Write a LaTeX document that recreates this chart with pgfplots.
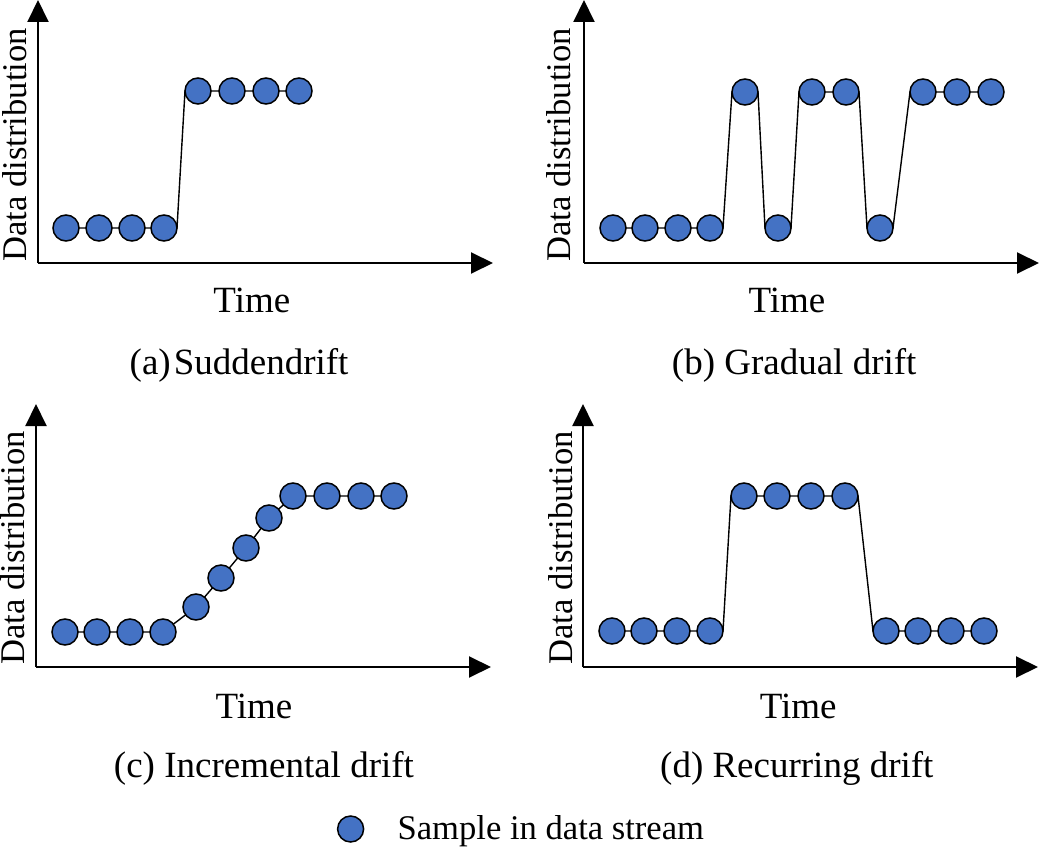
\documentclass[border=0pt]{standalone}
\usepackage{fontspec}
\setmainfont{Liberation Serif}
\usepackage{pgfplots}
\pgfplotsset{compat=1.18}
\usetikzlibrary{arrows.meta}

\definecolor{cblue}{HTML}{4472C4}

% all lengths: 1 px of the reference = 0.5pt
\pgfplotsset{
  drift/.style={
    scale only axis,
    width=227.5pt, height=131.5pt,
    xmin=0, xmax=455, ymin=0, ymax=263,
    axis lines=left,
    axis line style={line width=1pt, -{Triangle[length=11pt,width=10.5pt]}},
    xtick=\empty, ytick=\empty,
    clip=false,
    anchor=south west,
    xlabel={Time}, ylabel={Data distribution},
    xlabel style={font=\fontsize{18.5}{21}\selectfont, anchor=base},
    ylabel style={font=\fontsize{17.3}{20}\selectfont, anchor=center},
    title style={font=\fontsize{18.5}{21}\selectfont, anchor=base, yshift=0pt},
  },
  link/.style={black, line width=0.7pt, no marks, forget plot},
  sample/.style={only marks, mark=*, mark size=6.5pt,
    mark options={fill=cblue, draw=black, line width=0.75pt}},
}

\begin{document}
\begin{tikzpicture}
\useasboundingbox (0,0) rectangle (520.5pt,424pt);

% (a) sudden drift
\begin{axis}[drift, at={(19pt,292.5pt)},
    ylabel style={at={(axis description cs:-0.051,0.449)}},
    xlabel style={at={(axis description cs:0.470,-0.190)}},
    title style={at={(axis description cs:0.442,-0.468)}},
    title={(a)\hspace{0.08em}Suddendrift}]
\addplot[link] coordinates {
  (28,35) (139,35) (147,172) (261,172)};
\addplot[sample, forget plot] coordinates {
  (28,35) (61,35) (94,35) (126,35)
  (160,172) (194,172) (228,172) (261,172)};
\end{axis}

% (b) gradual drift
\begin{axis}[drift, at={(292pt,292.5pt)},
    ylabel style={at={(axis description cs:-0.055,0.449)}},
    xlabel style={at={(axis description cs:0.446,-0.190)}},
    title style={at={(axis description cs:0.462,-0.468)}},
    title={(b) Gradual drift}]
\addplot[link] coordinates {
  (29,35) (139,35) (148,171) (174,171) (181,35) (207,35) (215,171)
  (275,171) (283,35) (309,35) (326,171) (407,171)};
\addplot[sample, forget plot] coordinates {
  (29,35) (61,35) (94,35) (126,35) (161,171) (194,35)
  (228,171) (262,171) (296,35) (339,171) (373,171) (407,171)};
\end{axis}

% (c) incremental drift
\begin{axis}[drift, at={(18pt,90.5pt)},
    ylabel style={at={(axis description cs:-0.051,0.452)}},
    xlabel style={at={(axis description cs:0.479,-0.194)}},
    title style={at={(axis description cs:0.501,-0.466)}},
    title={(c) Incremental drift},
    legend style={draw=none, fill=none, inner sep=0pt,
      at={(axis description cs:0.662,-0.616)}, anchor=west,
      font=\fontsize{17.3}{20}\selectfont,
      nodes={inner sep=0pt, anchor=west},
      /tikz/every odd column/.append style={column sep=17pt}}]
\addplot[link] coordinates {
  (29,35) (61,35) (94,35) (127,35) (160,60) (185,89)
  (210,119) (233,149) (257,171) (291,171) (325,171) (358,171)};
\addplot[sample, forget plot] coordinates {
  (29,35) (61,35) (94,35) (127,35) (160,60) (185,89)
  (210,119) (233,149) (257,171) (291,171) (325,171) (358,171)};
\addlegendimage{sample}
\addlegendentry{Sample in data stream}
\end{axis}

% (d) recurring drift
\begin{axis}[drift, at={(291.5pt,90.5pt)},
    ylabel style={at={(axis description cs:-0.049,0.452)}},
    xlabel style={at={(axis description cs:0.473,-0.194)}},
    title style={at={(axis description cs:0.470,-0.466)}},
    title={(d) Recurring drift}]
\addplot[link] coordinates {
  (29,36) (140,36) (148,171) (275,171) (290,36) (401,36)};
\addplot[sample, forget plot] coordinates {
  (29,36) (61,36) (94,36) (127,36) (161,171) (194,171)
  (228,171) (262,171) (303,36) (335,36) (368,36) (401,36)};
\end{axis}
\end{tikzpicture}
\end{document}
